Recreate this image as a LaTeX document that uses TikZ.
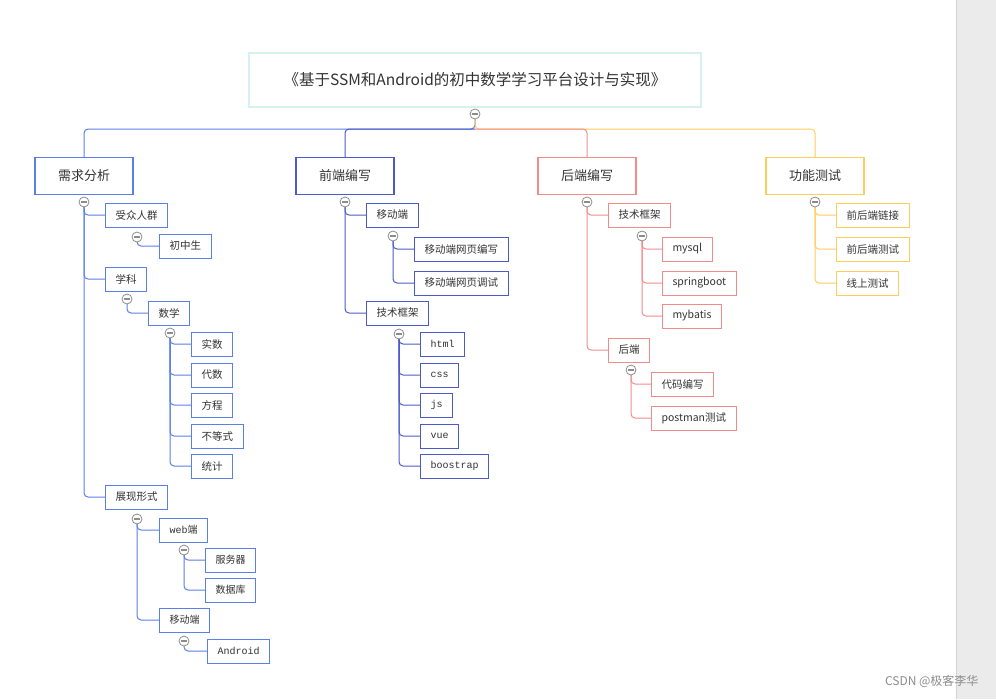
\documentclass[tikz,border=0pt]{standalone}
\usepackage{fontspec}
\setmainfont{Noto Sans CJK SC}
\newfontfamily\mono{Liberation Mono}
\begin{document}
\begin{tikzpicture}[x=1pt,y=-1pt,
  box/.style={draw=#1,line width=1pt,fill=white,anchor=west,minimum height=24pt,inner xsep=10pt,font=\fontsize{10.5}{12}\selectfont,text=black!80},
  mb/.style={box=#1,font=\fontsize{10}{12}\selectfont},
  top/.style={draw=#1,line width=1.2pt,fill=white,minimum height=37pt,minimum width=98pt,font=\fontsize{13}{15}\selectfont,text=black!80},
  coll/.style={circle,draw=gray!90,fill=white,minimum size=10pt,inner sep=0pt,line width=0.8pt,
    path picture={\draw[gray!90,line width=1.2pt]([xshift=-3pt]path picture bounding box.center)--([xshift=3pt]path picture bounding box.center);}},
  ln/.style={draw=#1,line width=1pt,rounded corners=4pt}]
\definecolor{cA}{HTML}{5B7FE8}
\definecolor{cB}{HTML}{4A5BC8}
\definecolor{cC}{HTML}{F28C8C}
\definecolor{cD}{HTML}{FFCD5C}
\definecolor{rootc}{HTML}{D8F1EE}
\useasboundingbox (0,0) rectangle (996,699);
\fill[white] (0,0) rectangle (996,699);
\fill[black!8] (956,0) rectangle (996,699);
\draw[black!18,line width=1pt] (956.5,0) -- (956.5,699);
% root
\node[draw=rootc,line width=2pt,minimum width=452pt,minimum height=54pt,font=\fontsize{15.5}{18}\selectfont,text=black!80] (root) at (475,80) {《基于SSM和Android的初中数学学习平台设计与实现》};
\coordinate (rc) at (475,114);
\coordinate (hb) at (475,129);
% level 1
\node[top=cA] (a) at (84,176) {需求分析};
\node[top=cB] (b) at (345,176) {前端编写};
\node[top=cC] (c) at (587,176) {后端编写};
\node[top=cD] (d) at (815,176) {功能测试};
\draw[ln=cA] (rc) -- (hb) -| (a.north);
\draw[ln=cB] (hb) -| (b.north);
\draw[ln=cD] (rc) -- (hb) -| (d.north);
\draw[ln=cC] (hb) -| (c.north);
% branch A
\node[box=cA] (a1) at (105,215) {受众人群};
\node[box=cA] (a11) at (159,246) {初中生};
\node[box=cA] (a2) at (105,279) {学科};
\node[box=cA] (a21) at (148,313) {数学};
\node[box=cA] (m1) at (191,344) {实数};
\node[box=cA] (m2) at (191,375) {代数};
\node[box=cA] (m3) at (191,405) {方程};
\node[box=cA] (m4) at (191,436) {不等式};
\node[box=cA] (m5) at (191,466) {统计};
\node[box=cA] (a3) at (105,497) {展现形式};
\node[mb=cA] (a31) at (159,530) {{\mono web}端};
\node[mb=cA] (w1) at (205,560) {服务器};
\node[mb=cA] (w2) at (205,590) {数据库};
\node[mb=cA] (a32) at (159,620) {移动端};
\node[mb=cA,font=\mono\fontsize{10}{12}\selectfont] (an) at (207,651) {Android};
\coordinate (ca) at (84,202); \coordinate (ca1) at (137,237); \coordinate (ca2) at (127,299);
\coordinate (ca21) at (170,333); \coordinate (ca3) at (137,519); \coordinate (ca31) at (184,550); \coordinate (ca32) at (184,641);
\foreach \p/\c in {ca/a1,ca/a2,ca/a3,ca1/a11,ca2/a21,ca21/m1,ca21/m2,ca21/m3,ca21/m4,ca21/m5,ca3/a31,ca3/a32,ca31/w1,ca31/w2,ca32/an}
  \draw[ln=cA] (\p) |- (\c.west);
% branch B
\node[box=cB] (b1) at (366,215) {移动端};
\node[box=cB] (b11) at (414,249) {移动端网页编写};
\node[box=cB] (b12) at (414,283) {移动端网页调试};
\node[box=cB] (b2) at (366,313) {技术框架};
\node[box=cB,font=\mono\fontsize{10}{12}\selectfont] (h1) at (420,344) {html};
\node[box=cB,font=\mono\fontsize{10}{12}\selectfont] (h2) at (420,375) {css};
\node[box=cB,font=\mono\fontsize{10}{12}\selectfont] (h3) at (420,405) {js};
\node[box=cB,font=\mono\fontsize{10}{12}\selectfont] (h4) at (420,436) {vue};
\node[box=cB,font=\mono\fontsize{10}{12}\selectfont] (h5) at (420,466) {boostrap};
\coordinate (cb) at (345,202); \coordinate (cb1) at (393,236); \coordinate (cb2) at (399,334);
\foreach \p/\c in {cb/b1,cb/b2,cb1/b11,cb1/b12,cb2/h1,cb2/h2,cb2/h3,cb2/h4,cb2/h5}
  \draw[ln=cB] (\p) |- (\c.west);
% branch C
\node[box=cC] (c1) at (608,215) {技术框架};
\node[box=cC] (c11) at (662,249) {mysql};
\node[box=cC] (c12) at (662,283) {springboot};
\node[box=cC] (c13) at (662,316) {mybatis};
\node[box=cC] (c2) at (608,350) {后端};
\node[box=cC] (c21) at (651,384) {代码编写};
\node[box=cC] (c22) at (651,418) {postman测试};
\coordinate (cc) at (587,202); \coordinate (cc1) at (642,236); \coordinate (cc2) at (631,370);
\foreach \p/\c in {cc/c1,cc/c2,cc1/c11,cc1/c12,cc1/c13,cc2/c21,cc2/c22}
  \draw[ln=cC] (\p) |- (\c.west);
% branch D
\node[box=cD] (d1) at (836,215) {前后端链接};
\node[box=cD] (d2) at (836,249) {前后端测试};
\node[box=cD] (d3) at (836,283) {线上测试};
\coordinate (cd) at (815,202);
\foreach \c in {d1,d2,d3} \draw[ln=cD] (cd) |- (\c.west);
% collapse circles
\foreach \p in {rc,ca,ca1,ca2,ca21,ca3,ca31,ca32,cb,cb1,cb2,cc,cc1,cc2,cd}
  \node[coll] at (\p) {};
\node[anchor=east,text=black!45,font=\fontsize{12}{14}\selectfont] (wm) at (982,681) {CSDN @极客李华};
\end{tikzpicture}
\end{document}
